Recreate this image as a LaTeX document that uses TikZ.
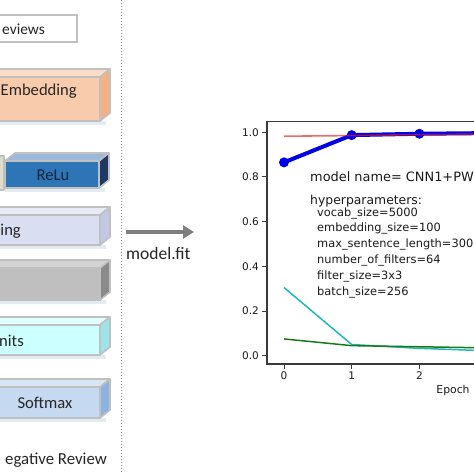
\documentclass[tikz,border=0pt]{standalone}
\usepackage{fontspec}
\setmainfont{Carlito}
\newfontfamily\plotfont{DejaVu Sans}
\usetikzlibrary{arrows.meta}
\definecolor{edgegray}{HTML}{C0C0C0}
\definecolor{shadowc}{HTML}{E3EAF2}
\definecolor{txtdark}{HTML}{262626}
\definecolor{relutxt}{HTML}{1A2540}
\definecolor{peachF}{HTML}{F8CBAD}
\definecolor{peachT}{HTML}{FBDCC8}
\definecolor{peachS}{HTML}{F4B183}
\definecolor{reluF}{HTML}{2E75B6}
\definecolor{reluT}{HTML}{9DB9D9}
\definecolor{reluS}{HTML}{1F3864}
\definecolor{olivelt}{HTML}{DCDDCB}
\definecolor{poolF}{HTML}{DADEF2}
\definecolor{poolT}{HTML}{E8EAF6}
\definecolor{poolS}{HTML}{C3C8E4}
\definecolor{grayF}{HTML}{BFBFBF}
\definecolor{grayT}{HTML}{D4D4D4}
\definecolor{grayS}{HTML}{8A8A8A}
\definecolor{cyanF}{HTML}{CCFFFF}
\definecolor{cyanT}{HTML}{E0FFFF}
\definecolor{cyanS}{HTML}{9DE3EA}
\definecolor{smF}{HTML}{C5D9F1}
\definecolor{smT}{HTML}{D9E5F4}
\definecolor{smS}{HTML}{8DB3E2}
\definecolor{spinec}{HTML}{3A3A3A}
\definecolor{accblue}{HTML}{0000E6}
\definecolor{valred}{HTML}{E02020}
\definecolor{losscyan}{HTML}{20B8B8}
\definecolor{lossgreen}{HTML}{1A7A1A}
\definecolor{plottext}{HTML}{1A1A1A}
\definecolor{arrowgray}{HTML}{7F7F7F}
\definecolor{dotgray}{HTML}{8C8C8C}
\tikzset{
  boxedge/.style={draw=edgegray, line width=1.6pt, line join=round},
  lbl/.style={inner sep=0pt, font=\fontsize{16.6}{19}\selectfont, text=txtdark},
  ptxt/.style={inner sep=0pt, anchor=base west, font=\plotfont\fontsize{11.4}{13}\selectfont, text=plottext},
  ticklbl/.style={inner sep=0pt, font=\plotfont\fontsize{10.5}{12}\selectfont, text=plottext},
  spine/.style={draw=spinec, line width=1.2pt},
  tickmark/.style={draw=spinec, line width=1pt},
}
\newcommand\layerbox[7]{%
  \fill[shadowc] (#1,#3) rectangle (#7+6,#3+4);
  \filldraw[boxedge, fill=#5] (#1,#2) -- (#1+10,#2-8) -- (#7+10,#2-8) -- (#7,#2) -- cycle;
  \filldraw[boxedge, fill=#6] (#7,#2) -- (#7+10,#2-8) -- (#7+10,#3-8) -- (#7,#3) -- cycle;
  \filldraw[boxedge, fill=#4] (#1,#2) rectangle (#7,#3);
}
\begin{document}
\begin{tikzpicture}[x=1pt,y=-1pt]
\useasboundingbox (0,0) rectangle (474,474);
\clip (0,0) rectangle (474,474);
\fill[white] (0,0) rectangle (474,474);

% ---------- left panel ----------
\filldraw[draw=edgegray, line width=2pt, fill=white] (-10,15) rectangle (77,42);
\node[lbl, anchor=east, font=\fontsize{15.4}{18}\selectfont] (inp) at (45,29) {eviews};

\layerbox{-10}{77}{121}{peachF}{peachT}{peachS}{100}
\node[lbl, anchor=east] (emb) at (77,91.5) {Embedding};

\filldraw[boxedge, fill=olivelt] (-10,156) rectangle (4,190);
\layerbox{5}{161}{188}{reluF}{reluT}{reluS}{99}
\node[lbl, text=relutxt] (relu) at (53,175) {ReLu};

\layerbox{-10}{215}{245}{poolF}{poolT}{poolS}{100}
\node[lbl, anchor=east] (pool) at (21,231) {ing};

\layerbox{-10}{268}{300}{grayF}{grayT}{grayS}{100}

\layerbox{-10}{325}{355}{cyanF}{cyanT}{cyanS}{100}
\node[lbl, anchor=east] (dense) at (24,340.5) {nits};

\layerbox{-10}{387}{418}{smF}{smT}{smS}{100}
\node[lbl] (soft) at (45,403) {Softmax};

\node[lbl, anchor=east, font=\fontsize{16.8}{19}\selectfont] (outp) at (107,460) {egative Review};

% ---------- separator ----------
\coordinate (septop) at (121,0);
\coordinate (sepbot) at (121,474);
\draw[dotgray, line width=1pt, dash pattern=on 1pt off 2pt] (septop) -- (sepbot);

% ---------- model.fit arrow ----------
\coordinate (fitstart) at (126,232);
\coordinate (fitend) at (194,232);
\draw[arrowgray, line width=4pt, -{Triangle[length=11pt,width=13pt]}] (fitstart) -- (fitend);
\node[inner sep=0pt, anchor=west, font=\fontsize{17.5}{20}\selectfont, text=txtdark] (fit) at (126,253) {model.fit};

% ---------- plot ----------
\draw[spine] (480,121.7) -- (267,121.7) -- (267,364) -- (480,364);
\foreach \v/\t in {0/0.0,0.2/0.2,0.4/0.4,0.6/0.6,0.8/0.8,1.0/1.0}{
  \draw[tickmark] (262,355.7-223.5*\v) -- (267,355.7-223.5*\v);
  \node[ticklbl, anchor=east] (yt\t) at (259,355.7-223.5*\v) {\t};
}
\foreach \e in {0,1,2}{
  \draw[tickmark] (284+67.7*\e,364) -- (284+67.7*\e,369);
  \node[ticklbl, anchor=north] (xt\e) at (284+67.7*\e,371.5) {\e};
}
\node[ticklbl, font=\plotfont\fontsize{10.8}{12}\selectfont] (epoch) at (453,391) {Epoch};

\begin{scope}[shift={(284,355.7)}, x=67.7pt, y=223.5pt]
  \draw[losscyan, line width=1.5pt, line join=round] (0,0.305) -- (1,0.05) -- (2,0.033) -- (3,0.022);
  \draw[lossgreen, line width=1.5pt, line join=round] (0,0.075) -- (1,0.045) -- (2,0.04) -- (3,0.035);
  \draw[accblue, line width=4pt, line join=round] (0,0.865) -- (1,0.987) -- (2,0.993) -- (3,0.996);
  \foreach \e/\v in {0/0.865,1/0.987,2/0.993}{
    \fill[accblue] (\e,\v) circle[radius=5pt];
  }
  \draw[valred, line width=1.6pt, opacity=0.65] (0,0.982) -- (1,0.985) -- (2,0.989) -- (3,0.992);
\end{scope}

\node[ptxt, font=\plotfont\fontsize{12.9}{15}\selectfont] (mname) at (310,181.5) {model name= CNN1+PW};
\node[ptxt, font=\plotfont\fontsize{12.4}{14}\selectfont] (hyp) at (310,204.5) {hyperparameters:};
\node[ptxt] (h1) at (317,216.3) {vocab\_size=5000};
\node[ptxt] (h2) at (317,231.5) {embedding\_size=100};
\node[ptxt] (h3) at (317,247.8) {max\_sentence\_length=300};
\node[ptxt] (h4) at (317,263.7) {number\_of\_filters=64};
\node[ptxt] (h5) at (317,279.5) {filter\_size=3x3};
\node[ptxt] (h6) at (317,295) {batch\_size=256};
\end{tikzpicture}
\end{document}
